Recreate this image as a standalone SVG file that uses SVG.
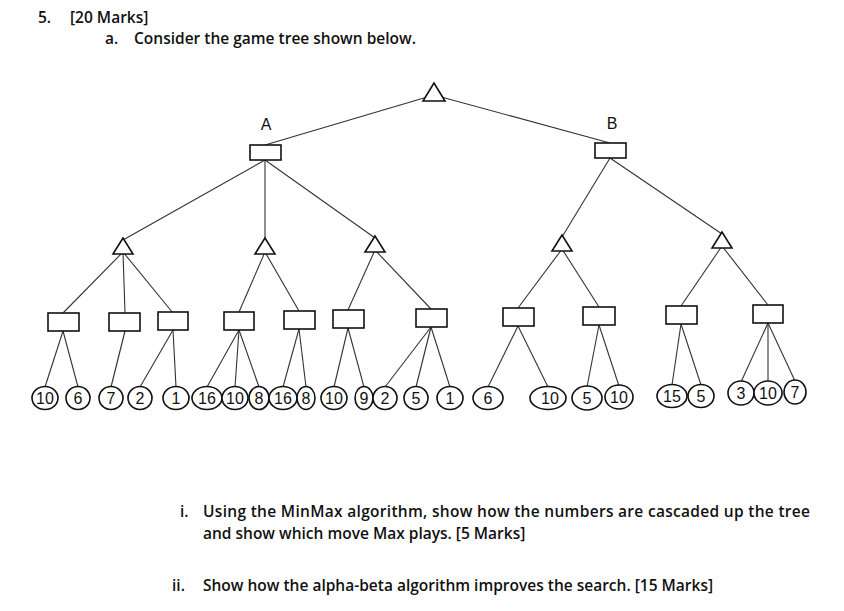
<svg xmlns="http://www.w3.org/2000/svg" width="844" height="611" viewBox="0 0 844 611">
<style>
.t{font-family:"Open Sans","Liberation Sans",sans-serif;font-size:15.5px;font-weight:600;fill:#111}
.n{font-family:"Liberation Sans",sans-serif;font-size:16px;fill:#111;text-anchor:middle}
.s{fill:#fff;stroke:#111;stroke-width:1.6}
.c line{stroke:#333;stroke-width:1.1}
</style>
<rect width="844" height="611" fill="#fff"/>
<text class="t" x="38" y="23">5.</text><text class="t" x="70" y="23">[20 Marks]</text>
<text class="t" x="105" y="44">a.</text><text class="t" x="134" y="44">Consider the game tree shown below.</text>
<g class="c">
<line x1="434" y1="95" x2="265" y2="145"/><line x1="434" y1="95" x2="610" y2="143"/>
<line x1="265" y1="160" x2="123" y2="240"/><line x1="265" y1="160" x2="265" y2="240"/><line x1="265" y1="160" x2="375" y2="238"/>
<line x1="610" y1="158" x2="562" y2="237"/><line x1="610" y1="158" x2="722" y2="234"/>
<line x1="123" y1="252" x2="63" y2="313"/><line x1="123" y1="252" x2="125" y2="313"/><line x1="123" y1="252" x2="173" y2="313"/>
<line x1="265" y1="252" x2="239" y2="312"/><line x1="265" y1="252" x2="299" y2="311"/>
<line x1="375" y1="250" x2="348" y2="310"/><line x1="375" y1="250" x2="431" y2="309"/>
<line x1="562" y1="249" x2="518" y2="308"/><line x1="562" y1="249" x2="599" y2="307"/>
<line x1="722" y1="246" x2="681" y2="306"/><line x1="722" y1="246" x2="768" y2="305"/>
<line x1="63" y1="331" x2="45" y2="387"/><line x1="63" y1="331" x2="78" y2="387"/>
<line x1="125" y1="331" x2="111" y2="387"/>
<line x1="173" y1="330" x2="140" y2="387"/><line x1="173" y1="330" x2="176" y2="387"/>
<line x1="239" y1="330" x2="207" y2="387"/><line x1="239" y1="330" x2="235" y2="387"/><line x1="239" y1="330" x2="259" y2="387"/>
<line x1="299" y1="329" x2="283" y2="387"/><line x1="299" y1="329" x2="306" y2="387"/>
<line x1="348" y1="328" x2="334" y2="387"/><line x1="348" y1="328" x2="364" y2="387"/>
<line x1="431" y1="327" x2="385" y2="387"/><line x1="431" y1="327" x2="416" y2="387"/><line x1="431" y1="327" x2="450" y2="387"/>
<line x1="518" y1="326" x2="488" y2="387"/><line x1="518" y1="326" x2="548" y2="387"/>
<line x1="599" y1="325" x2="587" y2="387"/><line x1="599" y1="325" x2="619" y2="386"/>
<line x1="681" y1="324" x2="672" y2="385"/><line x1="681" y1="324" x2="701" y2="385"/>
<line x1="768" y1="323" x2="741" y2="382"/><line x1="768" y1="323" x2="768" y2="382"/><line x1="768" y1="323" x2="795" y2="381"/>
</g>
<g id="root"><polygon class="s" points="434,83 423,101 445,101"/></g>
<g id="A"><text class="n" x="266" y="130" font-size="13">A</text><rect class="s" x="250" y="145" width="31" height="15"/></g>
<g id="B"><text class="n" x="612" y="129" font-size="13">B</text><rect class="s" x="595" y="143" width="31" height="15"/></g>
<g id="max1"><polygon class="s" points="123,238 113,254 133,254"/></g>
<g id="max2"><polygon class="s" points="265,238 255,254 275,254"/></g>
<g id="max3"><polygon class="s" points="375,236 365,252 385,252"/></g>
<g id="max4"><polygon class="s" points="562,235 552,251 572,251"/></g>
<g id="max5"><polygon class="s" points="722,232 712,248 732,248"/></g>
<g id="m1"><rect class="s" x="48" y="313" width="31" height="18"/></g>
<g id="m2"><rect class="s" x="109" y="313" width="31" height="18"/></g>
<g id="m3"><rect class="s" x="158" y="312" width="30" height="18"/></g>
<g id="m4"><rect class="s" x="224" y="312" width="30" height="18"/></g>
<g id="m5"><rect class="s" x="284" y="311" width="31" height="18"/></g>
<g id="m6"><rect class="s" x="333" y="310" width="31" height="18"/></g>
<g id="m7"><rect class="s" x="416" y="309" width="31" height="18"/></g>
<g id="m8"><rect class="s" x="503" y="308" width="31" height="18"/></g>
<g id="m9"><rect class="s" x="583" y="307" width="32" height="18"/></g>
<g id="m10"><rect class="s" x="666" y="306" width="31" height="18"/></g>
<g id="m11"><rect class="s" x="753" y="305" width="30" height="18"/></g>
<g id="l1"><ellipse class="s" cx="45" cy="398" rx="13" ry="11.5"/><text class="n" x="45" y="404">10</text></g>
<g id="l2"><ellipse class="s" cx="78" cy="398" rx="12" ry="11.5"/><text class="n" x="78" y="404">6</text></g>
<g id="l3"><ellipse class="s" cx="111" cy="398" rx="12" ry="11.5"/><text class="n" x="111" y="404">7</text></g>
<g id="l4"><ellipse class="s" cx="140" cy="398" rx="12" ry="11.5"/><text class="n" x="140" y="404">2</text></g>
<g id="l5"><ellipse class="s" cx="176" cy="398" rx="13" ry="11.5"/><text class="n" x="176" y="404">1</text></g>
<g id="l6"><ellipse class="s" cx="207" cy="398" rx="15" ry="11.5"/><text class="n" x="207" y="404">16</text></g>
<g id="l7"><ellipse class="s" cx="235" cy="398" rx="13" ry="11.5"/><text class="n" x="235" y="404">10</text></g>
<g id="l8"><ellipse class="s" cx="259" cy="398" rx="10" ry="11.5"/><text class="n" x="259" y="404">8</text></g>
<g id="l9"><ellipse class="s" cx="283" cy="398" rx="14" ry="11.5"/><text class="n" x="283" y="404">16</text></g>
<g id="l10"><ellipse class="s" cx="306" cy="398" rx="9" ry="11.5"/><text class="n" x="306" y="404">8</text></g>
<g id="l11"><ellipse class="s" cx="334" cy="398" rx="13" ry="11.5"/><text class="n" x="334" y="404">10</text></g>
<g id="l12"><ellipse class="s" cx="364" cy="398" rx="9" ry="11.5"/><text class="n" x="364" y="404">9</text></g>
<g id="l13"><ellipse class="s" cx="385" cy="398" rx="12" ry="11.5"/><text class="n" x="385" y="404">2</text></g>
<g id="l14"><ellipse class="s" cx="416" cy="398" rx="12" ry="11.5"/><text class="n" x="416" y="404">5</text></g>
<g id="l15"><ellipse class="s" cx="450" cy="398" rx="13" ry="11.5"/><text class="n" x="450" y="404">1</text></g>
<g id="l16"><ellipse class="s" cx="488" cy="398" rx="15" ry="11.5"/><text class="n" x="488" y="404">6</text></g>
<g id="l17"><ellipse class="s" cx="548" cy="398" rx="18" ry="11.5"/><text class="n" x="550" y="404">10</text></g>
<g id="l18"><ellipse class="s" cx="587" cy="398" rx="15" ry="12"/><text class="n" x="587" y="404">5</text></g>
<g id="l19"><ellipse class="s" cx="619" cy="397" rx="14" ry="12"/><text class="n" x="619" y="403">10</text></g>
<g id="l20"><ellipse class="s" cx="672" cy="396" rx="15" ry="11.5"/><text class="n" x="672" y="402">15</text></g>
<g id="l21"><ellipse class="s" cx="701" cy="396" rx="13" ry="11.5"/><text class="n" x="701" y="402">5</text></g>
<g id="l22"><ellipse class="s" cx="741" cy="393" rx="13" ry="12"/><text class="n" x="741" y="399">3</text></g>
<g id="l23"><ellipse class="s" cx="768" cy="393" rx="14" ry="12"/><text class="n" x="768" y="399">10</text></g>
<g id="l24"><ellipse class="s" cx="795" cy="392" rx="11" ry="12"/><text class="n" x="795" y="398">7</text></g>
<text class="t" x="180" y="517">i.</text><text class="t" x="203" y="517" textLength="607">Using the MinMax algorithm, show how the numbers are cascaded up the tree</text>
<text class="t" x="203" y="539">and show which move Max plays. [5 Marks]</text>
<text class="t" x="172" y="591">ii.</text><text class="t" x="203" y="591">Show how the alpha-beta algorithm improves the search. [15 Marks]</text>
</svg>
